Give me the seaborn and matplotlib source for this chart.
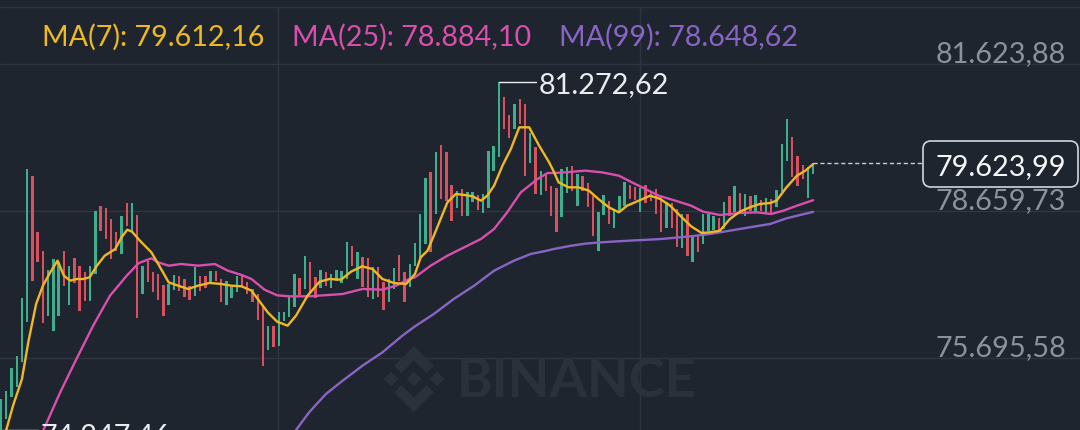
import numpy as np
import pandas as pd
import matplotlib.pyplot as plt
import seaborn as sns
from matplotlib.patches import FancyBboxPatch, Polygon
from matplotlib.lines import Line2D
from matplotlib.transforms import IdentityTransform

# Candle data (156 candles, oldest first)
opens = [74247.46, 74471, 74908, 75110, 75614, 76420, 79365, 78249, 77852, 76542,
         76239, 76555, 77866, 76777, 77711, 77550, 77429, 76858, 77395, 78760,
         78720, 78504, 78236, 77799, 78827, 78236, 78585, 76992, 77664, 77429,
         77395, 77174, 76770, 77079, 77362, 77294, 77160, 76959, 77362, 77348,
         77227, 77462, 77294, 76770, 76905, 77039, 77375, 77241, 77093, 76992,
         76723, 75869, 76353, 75950, 76454, 76521, 76723, 77308, 77093, 77631,
         77328, 77106, 77429, 77106, 77261, 77214, 77294, 77967, 77294, 77731,
         77711, 76891, 77530, 77241, 76838, 77093, 77778, 77429, 77126, 77550,
         77698, 78000, 79446, 78605, 79997, 79862, 79190, 78720, 79110, 78558,
         78854, 78988, 78625, 78720, 79479, 79748, 80958, 80602, 80319, 80924,
         80824, 79634, 79950, 78988, 79392, 79177, 79123, 78538, 79029, 79567,
         78773, 79378, 79230, 78975, 77866, 78585, 78874, 78316, 78673, 78760,
         79190, 79143, 78639, 79190, 79076, 79110, 78941, 78316, 78827, 78706,
         77913, 78605, 77631, 78168, 78000, 78269, 78289, 78518, 78303, 78975,
         78639, 79029, 78558, 78975, 78652, 78894, 78625, 78908, 78740, 79042,
         79681, 80151, 79768, 79594, 78921, 79412]
closes = [74875, 75043, 75493, 75748, 76918, 79513, 77261, 77631, 76407, 77483,
          77698, 77631, 77160, 77550, 77214, 76642, 76858, 77550, 78673, 78269,
          78101, 77698, 77866, 78572, 78370, 78820, 76501, 77563, 77241, 77039,
          76878, 76542, 77194, 77375, 77059, 76925, 76878, 77530, 77059, 77106,
          77462, 77261, 76824, 77261, 77126, 77348, 77160, 76992, 76838, 76474,
          75547, 76353, 75916, 76636, 76622, 76925, 77395, 76972, 77752, 76992,
          76905, 77483, 77147, 77395, 77483, 77462, 78047, 77563, 77832, 77126,
          76925, 77530, 76925, 76676, 77294, 77510, 77261, 76838, 77597, 78020,
          78605, 79331, 77832, 79849, 78908, 78874, 78470, 79076, 78572, 79042,
          79056, 78693, 79009, 79882, 79983, 81272.62, 80319, 80131, 80824, 80420,
          79378, 80239, 79009, 79479, 79076, 78572, 78236, 79513, 79546, 79076,
          79412, 79076, 78740, 78168, 78652, 78988, 78404, 78706, 78962, 79257,
          78908, 78894, 79123, 78827, 78874, 78605, 78249, 78841, 78316, 77933,
          78605, 77765, 78168, 77846, 78605, 78605, 78572, 78236, 78854, 78572,
          79177, 78625, 79009, 78673, 78988, 78673, 78921, 78585, 79096, 80017,
          80521, 79345, 79177, 79311, 79546, 79623.99]

# Moving averages (candle index, value)
ma7_idx = [1.0, 2.3, 4.0, 5.2, 6.7, 8.0, 9.4, 10.8, 12.0, 13.2, 14.4, 15.7, 16.9, 18.3, 19.8,
           21.8, 23.0, 24.1, 25.0, 26.5, 28.7, 30.0, 32.0, 33.8, 35.7, 37.6, 39.8, 42.0, 43.9,
           45.9, 47.8, 49.0, 50.9, 52.7, 54.7, 56.3, 58.5, 60.8, 62.7, 64.9, 66.8, 68.9, 70.9,
           72.8, 75.0, 77.3, 79.0, 80.1, 81.4, 82.6, 83.9, 85.2, 86.8, 88.4, 90.0, 91.6, 92.8,
           94.1, 95.7, 97.3, 98.9, 100.8, 102.7, 104.6, 105.5, 106.4, 108.3, 110.2, 112.2,
           114.0, 116.0, 117.9, 119.5, 121.7, 123.9, 125.8, 127.7, 129.6, 131.7, 133.7, 135.3,
           137.2, 139.1, 141.0, 142.9, 144.8, 146.8, 148.0, 149.9, 151.9, 153.5, 155.0]
ma7_val = [74249, 74740, 75278, 76017, 76790, 77160, 77429, 77664, 77362, 77261, 77294, 77294,
           77328, 77563, 77765, 77899, 78135, 78289, 78249, 78068, 77832, 77597, 77227, 77160,
           77093, 77160, 77214, 77194, 77160, 77147, 77059, 76891, 76622, 76434, 76353, 76555,
           76958, 77241, 77294, 77281, 77442, 77550, 77496, 77294, 77214, 77194, 77395, 77731,
           77866, 78168, 78505, 78841, 79009, 78989, 78962, 78874, 78975, 79177, 79580, 79916,
           80353, 80353, 79983, 79647, 79459, 79244, 79143, 79143, 79076, 78908, 78740, 78639,
           78773, 78874, 78975, 78908, 78773, 78572, 78357, 78222, 78236, 78269, 78505, 78652,
           78740, 78807, 78827, 78874, 79143, 79378, 79479, 79612.16]
ma25_idx = [8.1, 11.3, 14.4, 17.6, 20.8, 24.0, 26.3, 28.7, 30.0, 32.0, 34.4, 37.6, 40.8, 43.3,
            45.9, 47.8, 50.3, 52.7, 55.0, 58.8, 65.2, 69.0, 72.8, 75.4, 77.9, 79.0, 82.0, 85.2,
            88.4, 91.6, 94.1, 96.6, 99.2, 102.4, 104.3, 105.5, 107.7, 111.5, 114.7, 117.9,
            120.4, 123.0, 125.5, 128.7, 131.7, 134.0, 137.2, 141.0, 144.2, 147.0, 149.3, 151.9,
            155.0]
ma25_val = [74249, 75009, 75681, 76355, 76958, 77362, 77617, 77711, 77631, 77563, 77597, 77563,
            77597, 77462, 77375, 77294, 77079, 76965, 76945, 76945, 76992, 77093, 77079, 77160,
            77294, 77328, 77563, 77765, 77933, 78101, 78303, 78639, 79042, 79311, 79432, 79432,
            79445, 79479, 79445, 79378, 79244, 79109, 78975, 78874, 78773, 78652, 78585, 78625,
            78639, 78605, 78672, 78773, 78884.10]
ma99_idx = [56.3, 58.8, 62.0, 65.2, 69.0, 72.8, 76.6, 79.0, 82.6, 86.4, 90.3, 94.1, 97.9, 101.1,
            103.6, 105.5, 108.5, 111.5, 114.5, 120.0, 126.0, 131.5, 135.3, 139.1, 142.9, 146.8,
            149.9, 152.5, 155.0]
ma99_val = [74249, 74606, 74975, 75244, 75547, 75816, 76152, 76340, 76589, 76891, 77160, 77462,
            77664, 77799, 77852, 77899, 77960, 78007, 78034, 78068, 78101, 78155, 78202, 78269,
            78337, 78404, 78518, 78585, 78648.62]

# price axis labels and time grid
grid_prices = [81623.88, 78659.73, 75695.58]
time_grid = [52.86, 121.95]
high_idx, high_price = 95, 81272.62
low_idx, low_price = 0, 74247.46

# colours
bg = '#1f252f'
grid_c = '#2f3540'
green = '#3fae8c'
red = '#d9515f'
yellow = '#efb924'
pink = '#d94fae'
purple = '#8a64c4'
label_grey = '#8b929c'
white = '#eaecef'
wm = '#2a313b'

sns.set_theme(style='dark', rc={'axes.facecolor': bg, 'figure.facecolor': bg})
plt.rcParams['font.family'] = ['Lato', 'DejaVu Sans']

W, H = 1080, 431
X0, STEP = 1.0, 5.24  # candle 0 sits at x=1px, one candle every 5.24px


def idx_at(px):
    return (px - X0) / STEP


def fmt(v):
    s = f"{v:,.2f}"
    return s.replace(',', '_').replace('.', ',').replace('_', '.')


fig = plt.figure(figsize=(W / 100, H / 100), dpi=100)
ax = fig.add_axes([0, 0, 1, 1])
ax.set_xlim(idx_at(0), idx_at(W))
ax.set_ylim(74249, 82941)
ax.set_axis_off()

# grid
for p in grid_prices:
    ax.axhline(p, color=grid_c, lw=1.0, zorder=1)
for t in time_grid:
    ax.axvline(t, ymin=0, ymax=1 - 8 / H, color=grid_c, lw=1.0, zorder=1)
fig.add_artist(Line2D([0, 1], [1 - 8 / H] * 2, transform=fig.transFigure, color=grid_c, lw=1.0))

# watermark
ax.text(457 / W, 1 - 397 / H, 'BINANCE', transform=fig.transFigure, fontsize=39,
        fontweight='bold', color=wm, va='baseline', zorder=1)
cx, cy, s = 414, H - 380, 33
shapes = [
    [(0, 0.22), (0.22, 0), (0, -0.22), (-0.22, 0)],
    [(-0.7, 0.22), (-0.48, 0), (-0.7, -0.22), (-0.92, 0)],
    [(0.7, 0.22), (0.92, 0), (0.7, -0.22), (0.48, 0)],
    [(0, 1), (0.6, 0.4), (0.38, 0.18), (0, 0.56), (-0.38, 0.18), (-0.6, 0.4)],
    [(0, -1), (0.6, -0.4), (0.38, -0.18), (0, -0.56), (-0.38, -0.18), (-0.6, -0.4)],
]
for sh in shapes:
    pts = [(cx + s * a, cy + s * b) for a, b in sh]
    ax.add_patch(Polygon(pts, closed=True, transform=IdentityTransform(), color=wm, lw=0, zorder=1))

# candles
df = pd.DataFrame({'open': opens, 'close': closes})
df['idx'] = np.arange(len(df))
df['up'] = df['close'] >= df['open']
ax.bar(df['idx'], df['close'] - df['open'], bottom=df['open'], width=0.46,
       color=np.where(df['up'], green, red), linewidth=0, zorder=3)

# moving averages
sns.lineplot(x=ma99_idx, y=ma99_val, ax=ax, color=purple, linewidth=1.7, zorder=4)
sns.lineplot(x=ma25_idx, y=ma25_val, ax=ax, color=pink, linewidth=1.7, zorder=4)
sns.lineplot(x=ma7_idx, y=ma7_val, ax=ax, color=yellow, linewidth=1.7, zorder=5)

# legend row
fig.text(42 / W, 1 - 46 / H, f"MA(7): {fmt(ma7_val[-1])}", color=yellow, fontsize=20.7, va='baseline')
fig.text(292 / W, 1 - 46 / H, f"MA(25): {fmt(ma25_val[-1])}", color=pink, fontsize=20.7, va='baseline')
fig.text(559 / W, 1 - 46 / H, f"MA(99): {fmt(ma99_val[-1])}", color=purple, fontsize=20.7, va='baseline')

# price scale labels
for p in grid_prices:
    ax.annotate(fmt(p), xy=(1066 / W, p), xycoords=('axes fraction', 'data'),
                xytext=(0, 3), textcoords='offset pixels', ha='right', va='baseline',
                color=label_grey, fontsize=20.8, zorder=2)

# high / low markers
ax.plot([high_idx, idx_at(536)], [high_price] * 2, color=white, lw=1.0, zorder=5)
fig.text(539 / W, 1 - 93 / H, fmt(high_price), color=white, fontsize=20.8, va='baseline')
ax.plot([low_idx, idx_at(38)], [low_price] * 2, color=white, lw=1.0, zorder=5)
fig.text(40 / W, 1 - 444 / H, fmt(low_price), color=white, fontsize=20.8, va='baseline')

# last price line and box
last = closes[-1]
ax.plot([len(closes) - 1, idx_at(922)], [last] * 2, color='#c9ccd1', lw=1.0,
        ls=(0, (3, 2)), zorder=5)
box = FancyBboxPatch((923, H - 188), 155, 46, boxstyle='round,pad=0,rounding_size=8',
                     transform=IdentityTransform(), facecolor=bg, edgecolor='#d2d5da', lw=1.2)
fig.add_artist(box)
fig.text(1001 / W, 1 - 175 / H, fmt(last), color='#f5f6f7', fontsize=20.8, ha='center', va='baseline')

fig.savefig('out.png', dpi=100, facecolor=bg)
